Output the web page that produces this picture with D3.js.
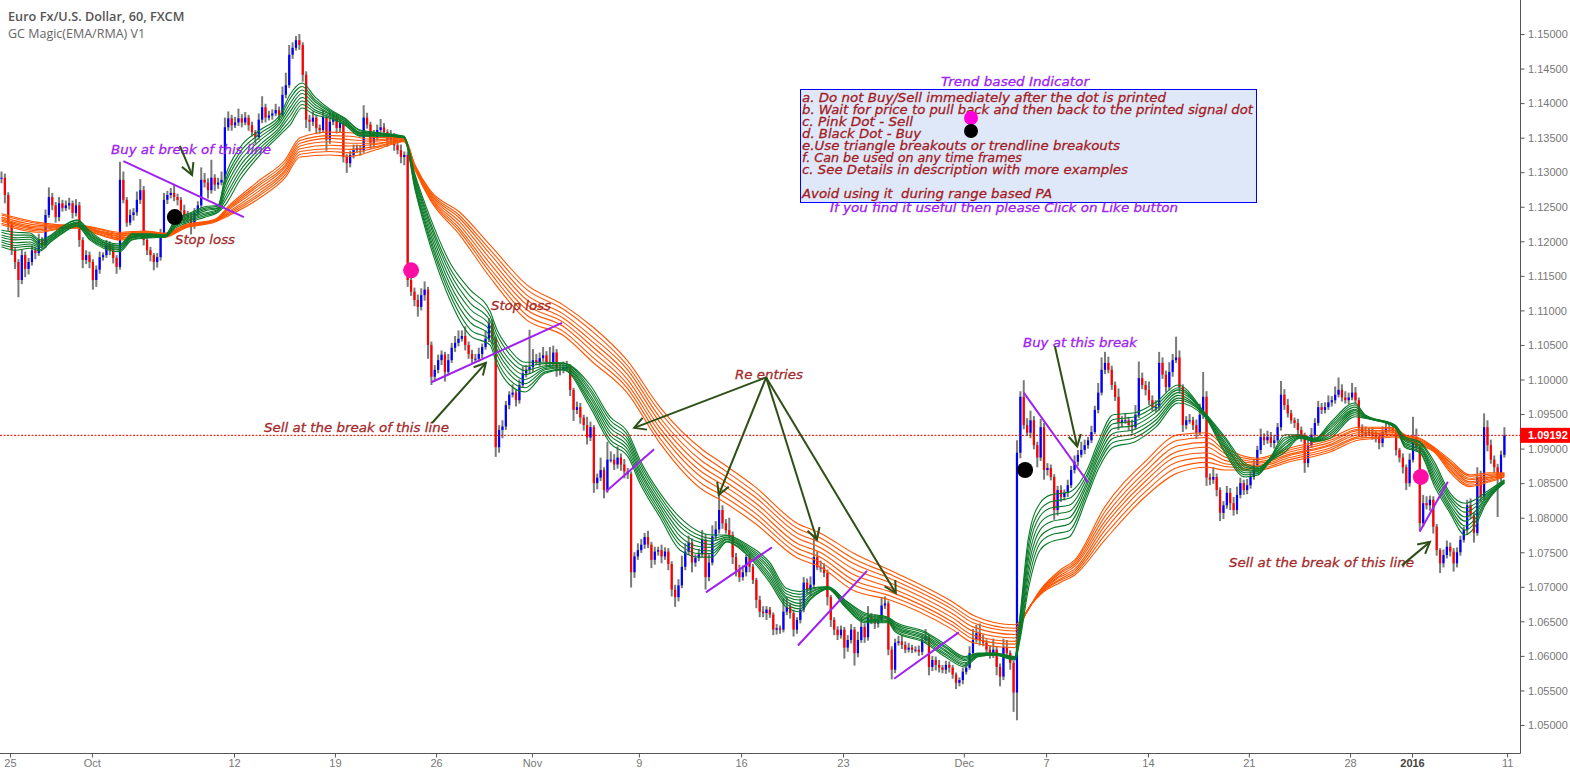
<!DOCTYPE html>
<html><head><meta charset="utf-8">
<style>html,body{margin:0;padding:0;background:#fff;overflow:hidden}svg{display:block}</style>
<script src="https://cdnjs.cloudflare.com/ajax/libs/d3/7.8.5/d3.min.js"></script>
</head><body><svg id="c" width="1570" height="772"></svg>
<script>
// all prices in pips (1.0000 = 10000)
const closes=[
11292,11267,11224,11187,11170,11144,11180,11160,11170,11187,
11183,11202,11195,11238,11264,11252,11235,11255,11248,11252,
11255,11241,11252,11202,11173,11180,11170,11144,11159,11177,
11180,11195,11187,11176,11163,11289,11260,11227,11238,11242,
11260,11274,11202,11187,11180,11170,11177,11210,11260,11267,
11270,11264,11260,11245,11235,11238,11224,11241,11252,11289,
11285,11274,11292,11282,11285,11289,11365,11378,11368,11372,
11378,11372,11379,11368,11358,11351,11376,11394,11379,11382,
11385,11390,11383,11412,11426,11470,11480,11491,11484,11441,
11376,11373,11379,11364,11361,11380,11347,11373,11379,11364,
11371,11322,11313,11325,11332,11335,11332,11379,11369,11343,
11351,11361,11365,11358,11347,11354,11339,11332,11322,11325,
11144,11127,11115,11105,11122,11130,11050,11004,11014,11028,
11036,11011,11028,11046,11053,11059,11063,11050,11037,11030,
11030,11037,11047,11059,11081,11059,10902,10927,10932,10963,
10978,10981,10970,10992,11009,11014,11018,11028,11025,11031,
11035,11025,11023,11039,11016,11014,11018,11018,10985,10956,
10960,10945,10934,10916,10931,10850,10858,10869,10840,10884,
10884,10877,10887,10877,10867,10863,10721,10744,10753,10761,
10772,10761,10739,10751,10753,10744,10751,10733,10696,10685,
10702,10729,10751,10764,10735,10742,10747,10768,10714,10735,
10773,10783,10811,10792,10782,10775,10743,10724,10714,10721,
10743,10729,10710,10681,10664,10662,10667,10660,10638,10640,
10638,10664,10671,10662,10638,10652,10667,10706,10695,10703,
10743,10728,10728,10720,10685,10652,10638,10630,10638,10612,
10623,10638,10604,10623,10642,10627,10656,10652,10647,10652,
10673,10676,10609,10580,10619,10621,10616,10609,10612,10609,
10609,10606,10623,10627,10584,10594,10587,10583,10580,10587,
10583,10573,10561,10565,10577,10583,10604,10623,10633,10623,
10619,10609,10602,10609,10584,10570,10613,10604,10590,10547,
10894,10975,10934,10923,10941,10905,10887,10931,10869,10872,
10859,10811,10840,10830,10836,10847,10869,10881,10891,10898,
10905,10912,10924,10956,10981,11014,11024,11014,10992,10975,
10937,10941,10941,10934,10931,10949,11002,10992,10985,10970,
10960,10960,11024,11007,10989,11011,11028,11032,10989,10934,
10941,10941,10934,10923,10949,10975,10858,10855,10859,10840,
10807,10818,10836,10821,10811,10833,10850,10840,10847,10859,
10876,10898,10917,10912,10917,10908,10912,10931,10978,10963,
10951,10941,10937,10927,10920,10879,10905,10920,10937,10960,
10956,10960,10967,10970,10978,10985,10974,10970,10974,10981,
10970,10930,10923,10923,10924,10920,10917,10908,10924,10931,
10930,10927,10898,10887,10873,10850,10884,10917,10902,10792,
10821,10818,10826,10787,10753,10734,10746,10758,10751,10734,
10750,10768,10782,10818,10804,10778,10859,10830,10931,10905,
10884,10873,10857,10891,10919];
const wickUp=[
9,6,4,5,3,4,8,5,6,7,
5,9,4,8,14,6,5,9,5,7,
8,4,9,5,4,7,5,4,6,8,
4,7,5,3,4,26,12,4,8,6,
12,16,6,4,5,3,6,8,10,6,
7,12,5,4,8,6,3,7,6,18,
10,6,26,5,7,12,14,10,5,8,
14,6,8,4,5,3,9,16,5,7,
6,9,5,12,18,14,8,6,9,4,
5,7,9,4,5,10,3,14,8,5,
6,3,4,6,8,5,4,18,7,4,
10,8,12,6,4,7,3,6,8,5,
5,3,6,8,10,12,4,5,7,8,
6,4,9,7,10,12,8,14,5,6,
7,9,5,12,8,6,3,7,9,6,
5,12,4,8,10,7,54,16,9,8,
12,6,22,10,5,7,8,9,4,3,
8,6,4,12,8,3,6,18,4,26,
12,8,16,6,8,5,4,6,10,8,
6,9,4,7,5,8,6,5,4,7,
9,16,12,10,6,5,8,14,8,12,
16,12,22,7,6,18,5,6,8,10,
4,5,4,3,6,8,5,4,3,6,
4,20,14,6,5,4,16,8,6,12,
32,8,10,6,5,3,4,5,6,4,
7,8,4,12,14,5,16,6,8,5,
12,10,4,5,6,8,9,5,7,4,
5,6,8,12,4,6,5,7,4,6,
5,4,3,4,6,8,10,16,12,14,
8,5,6,16,4,5,12,10,4,3,
18,8,24,10,14,6,5,12,6,7,
5,4,6,7,5,8,6,9,7,12,
8,5,9,6,14,18,16,9,6,5,
12,6,10,5,8,14,24,8,6,12,
7,10,16,8,6,14,9,30,10,4,
6,9,5,8,16,36,8,6,14,5,
4,6,10,7,9,12,8,5,9,7,
8,6,12,5,9,7,8,6,20,8,
9,5,4,6,5,3,8,10,7,9,
6,7,10,6,12,18,8,9,7,14,
8,4,5,9,6,7,5,4,8,6,
6,4,5,3,6,4,9,29,12,3,
12,10,6,5,4,3,8,9,6,5,
7,6,5,8,10,4,14,9,20,10,
8,6,5,6,12];
const wickDn=[
8,12,9,7,10,25,6,12,8,5,
9,4,6,5,4,7,8,6,5,4,
6,8,5,10,12,6,9,14,10,6,
5,4,7,8,10,4,5,6,4,8,
5,6,8,7,9,12,8,5,4,6,
5,6,8,4,10,8,14,6,5,4,
7,12,5,9,6,4,6,5,8,4,
5,7,4,8,6,10,4,5,7,4,
6,4,8,3,5,4,6,4,7,10,
12,14,6,9,5,4,16,6,5,8,
7,8,14,6,5,4,8,4,6,9,
7,5,4,6,10,5,8,6,9,12,
10,6,9,14,5,8,20,12,6,5,
7,14,5,4,6,5,4,8,7,6,
5,4,6,4,5,8,14,8,12,5,
6,4,9,5,4,6,5,7,4,6,
5,8,6,4,12,8,5,6,9,16,
6,9,8,10,5,14,9,5,12,4,
4,8,6,9,10,7,22,8,5,4,
6,5,12,7,6,10,5,9,10,14,
6,4,5,5,14,6,5,4,18,6,
4,5,6,8,5,4,10,9,7,5,
6,8,6,12,8,6,10,5,8,7,
6,4,5,8,10,6,5,4,5,8,
6,4,7,6,12,10,8,7,5,16,
6,5,18,6,4,8,5,6,8,6,
4,5,8,14,5,4,6,5,4,5,
4,6,5,4,12,6,8,7,5,6,
7,6,9,5,6,4,3,5,4,8,
5,8,6,5,12,14,5,6,10,28,
40,8,6,5,8,6,14,5,14,8,
5,14,8,7,5,6,4,5,6,4,
6,5,4,3,5,4,6,5,7,6,
10,6,5,8,9,4,5,6,8,7,
6,7,5,6,8,5,7,4,9,10,
6,5,7,9,4,6,12,8,6,9,
12,9,5,10,8,6,5,7,6,5,
4,5,6,7,5,6,8,4,5,7,
6,5,7,8,10,14,6,4,5,4,
6,5,4,6,5,4,6,5,6,4,
6,9,7,6,5,7,8,9,6,5,
6,5,8,7,9,10,5,4,7,12,
5,6,8,10,8,14,6,5,7,12,
6,5,4,7,6,14,4,8,5,9,
6,8,56,5,4];

const greenBars=[0,4,8.4,11.4,14.3,17.3,22.3,26.1,30.6,35,38.6,43.9,48.3,51.3,55.7,60.1,64,66,70.5,76.4,82.3,85.2,88.8,92.6,97,101.5,105.9,111.8,118.9,122.2,126.6,132.5,138.4,144.3,146.4,150.2,154.7,160.6,165.9,173.9,179.8,185.1,188.6,194.5,200.5,206.4,209.9,214.3,219.6,227,231.8,235.9,238.9,244.2,249.2,255.1,261.9,264,272.8,278.7,284.6,288.5,293.5,299.4,300.9,303.3,306.8,310,315.4,320.7,323.9,328.4,334.9,341,347.6,355.5,361.4,367.4,371.2,374.7,379.2,383.6,388,392.5,399.8,402.8,411.7,414.6,419,423.5,427.9,432.4,435.3,438.3,444];
const greenRows=[
[11216,11213,11209,11206,11202,11199,11195,11192],[11213,11209,11205,11202,11198,11194,11191,11187],[11212,11209,11206,11203,11199,11196,11193,11190],[11202,11200,11197,11195,11193,11191,11188,11186],[11208,11207,11205,11204,11202,11201,11199,11198],[11219,11218,11216,11215,11213,11212,11210,11209],[11231,11230,11228,11227,11226,11225,11223,11222],[11215,11213,11211,11209,11208,11206,11204,11202],[11200,11198,11197,11195,11194,11192,11191,11189],[11196,11194,11193,11191,11190,11188,11187,11185],[11211,11210,11208,11207,11206,11205,11203,11202],[11211,11210,11209,11208,11208,11207,11206,11205],
[11209,11209,11208,11208,11207,11207,11206,11206],[11231,11229,11228,11226,11224,11222,11221,11219],[11241,11239,11237,11235,11234,11232,11230,11228],[11250,11248,11246,11244,11241,11239,11237,11235],[11252,11251,11249,11248,11246,11245,11243,11242],[11292,11286,11281,11275,11269,11263,11258,11252],[11336,11329,11323,11316,11309,11302,11296,11289],[11361,11356,11351,11346,11340,11335,11330,11325],[11383,11379,11375,11371,11366,11362,11358,11354],[11412,11406,11399,11393,11387,11381,11374,11368],[11429,11424,11419,11414,11408,11403,11398,11393],[11409,11405,11402,11398,11394,11390,11387,11383],[11391,11389,11387,11385,11384,11382,11380,11378],[11378,11377,11375,11374,11372,11371,11369,11368],[11361,11360,11358,11357,11356,11355,11353,11352],[11357,11356,11356,11355,11354,11353,11353,11352],[11352,11352,11351,11351,11351,11351,11350,11350],
[11296,11293,11290,11287,11283,11280,11277,11274],[11235,11229,11224,11218,11212,11206,11201,11195],[11169,11161,11154,11146,11138,11130,11123,11115],[11130,11121,11111,11102,11092,11083,11073,11064],[11099,11092,11085,11078,11071,11064,11057,11050],[11072,11065,11057,11050,11043,11036,11028,11021],[11043,11036,11028,11021,11014,11007,10999,10992],[11025,11019,11013,11007,11000,10994,10988,10982],[11025,11023,11020,11018,11016,11014,11011,11009],[11024,11023,11021,11020,11018,11017,11015,11014],[10992,10987,10983,10978,10974,10969,10965,10960],[10946,10941,10935,10930,10924,10919,10913,10908],[10923,10918,10913,10908,10903,10898,10893,10888],[10884,10879,10874,10869,10865,10860,10855,10850],[10836,10831,10826,10821,10816,10811,10806,10801],[10800,10793,10787,10780,10773,10766,10760,10753],[10779,10774,10769,10764,10758,10753,10748,10743],[10775,10770,10766,10761,10757,10752,10748,10743],[10775,10774,10772,10771,10769,10768,10766,10765],[10763,10761,10759,10757,10755,10753,10751,10749],[10735,10731,10727,10723,10718,10714,10710,10706],[10698,10694,10690,10686,10683,10679,10675,10671],[10693,10689,10685,10681,10676,10672,10668,10664],[10698,10696,10693,10691,10688,10686,10683,10681],[10700,10700,10699,10699,10698,10698,10697,10697],[10681,10680,10678,10677,10675,10674,10672,10671],[10662,10660,10658,10656,10654,10652,10650,10648],[10656,10655,10654,10653,10651,10650,10649,10648],[10649,10647,10645,10643,10641,10639,10637,10635],[10635,10633,10630,10628,10626,10624,10621,10619],[10617,10614,10612,10609,10607,10604,10602,10599],[10599,10597,10595,10593,10590,10588,10586,10584],[10604,10603,10603,10602,10601,10601,10600,10599],[10604,10604,10603,10603,10602,10602,10601,10601],[10599,10598,10598,10597,10596,10596,10595,10594],
[10659,10654,10649,10644,10638,10633,10628,10623],[10768,10758,10747,10737,10726,10716,10705,10695],[10821,10811,10802,10792,10782,10772,10763,10753],[10833,10823,10814,10804,10794,10784,10775,10765],[10837,10828,10818,10809,10800,10791,10781,10772],[10869,10863,10858,10852,10847,10841,10836,10830],[10908,10902,10897,10891,10886,10880,10875,10869],[10949,10942,10936,10929,10922,10915,10909,10902],[10952,10946,10940,10934,10928,10922,10916,10910],[10967,10962,10957,10952,10946,10941,10936,10931],[10992,10988,10985,10981,10977,10973,10970,10966],[10952,10951,10950,10950,10948,10948,10947,10946],[10917,10914,10910,10907,10904,10901,10897,10894],[10879,10876,10873,10870,10868,10865,10862,10859],[10873,10871,10870,10868,10867,10865,10864,10862],[10886,10885,10885,10884,10883,10882,10882,10881],[10920,10916,10913,10909,10906,10902,10899,10895],[10920,10919,10919,10918,10917,10916,10916,10915],[10915,10914,10914,10913,10912,10911,10911,10910],[10937,10934,10931,10928,10924,10921,10918,10915],[10966,10963,10960,10957,10955,10952,10949,10946],[10949,10948,10948,10947,10946,10945,10945,10944],[10934,10934,10933,10933,10932,10932,10931,10931],[10917,10915,10913,10911,10908,10906,10904,10902],[10910,10908,10905,10903,10901,10899,10896,10894],[10879,10874,10869,10864,10859,10854,10849,10844],[10836,10832,10828,10824,10819,10815,10811,10807],[10821,10814,10808,10801,10795,10788,10782,10775],[10826,10820,10815,10809,10804,10798,10793,10787],[10836,10833,10831,10828,10826,10823,10821,10818],[10855,10854,10854,10853,10852,10851,10851,10850]];
const orangeBars=[0,11.4,17.3,22.3,29.1,35,42.4,48.3,54.2,63.1,67.5,76.4,83.8,88.2,97,103,110.4,118.9,122.2,126.6,135.4,144.3,155.2,165.9,174.7,184.8,194.5,207.2,212.3,222.6,235,241.8,251.6,262.5,281,287,299.4,301.8,306.8,312.7,317.1,326,337.8,347.6,356.1,361.4,371.2,380.6,392.5,400.7,407.2,411.7,414.6,419,423.5,427.9,433.8,439.7,444];
const orangeRows=[
[11240,11238,11235,11233,11231,11229,11226,11224],[11227,11225,11223,11221,11219,11217,11215,11213],[11224,11223,11222,11221,11221,11220,11219,11218],[11224,11223,11223,11222,11221,11220,11220,11219],[11218,11217,11215,11214,11213,11212,11210,11209],[11213,11211,11210,11208,11207,11205,11204,11202],[11215,11214,11213,11212,11211,11210,11209,11208],[11212,11211,11210,11209,11209,11208,11207,11206],[11224,11223,11223,11222,11221,11220,11220,11219],[11232,11231,11231,11230,11230,11229,11229,11228],[11253,11251,11249,11247,11244,11242,11240,11238],[11289,11285,11282,11278,11274,11270,11267,11263],[11318,11314,11310,11307,11303,11300,11296,11292],[11350,11346,11342,11338,11334,11330,11326,11322],[11358,11353,11349,11344,11339,11334,11330,11325],[11357,11352,11347,11342,11338,11333,11328,11323],[11350,11347,11345,11342,11340,11337,11335,11332],[11350,11349,11348,11347,11347,11346,11345,11344],
[11310,11309,11308,11307,11306,11305,11304,11303],[11274,11272,11270,11268,11266,11264,11262,11260],[11242,11237,11233,11228,11223,11218,11214,11209],[11195,11188,11182,11175,11168,11161,11155,11148],[11137,11130,11122,11115,11108,11101,11093,11086],[11108,11102,11095,11089,11083,11077,11070,11064],[11076,11069,11061,11054,11047,11040,11032,11025],[11028,11021,11015,11008,11001,10994,10988,10981],[10960,10953,10945,10938,10930,10923,10915,10908],[10898,10890,10881,10873,10865,10857,10848,10840],[10881,10873,10865,10857,10850,10842,10834,10826],[10845,10837,10830,10822,10815,10807,10800,10792],[10792,10785,10778,10771,10763,10756,10749,10742],[10778,10771,10764,10757,10750,10743,10736,10729],[10749,10741,10734,10726,10718,10710,10703,10695],[10724,10718,10712,10706,10699,10693,10687,10681],[10678,10672,10667,10661,10655,10649,10644,10638],[10659,10653,10648,10642,10636,10630,10625,10619],[10645,10640,10636,10631,10626,10621,10617,10612],
[10656,10655,10655,10654,10654,10653,10653,10652],[10695,10694,10693,10692,10691,10690,10689,10688],[10724,10721,10719,10716,10714,10711,10709,10706],[10739,10736,10733,10730,10726,10723,10720,10717],[10816,10809,10802,10795,10789,10782,10775,10768],[10881,10874,10866,10859,10852,10845,10837,10830],[10920,10912,10904,10896,10889,10881,10873,10865],[10923,10916,10909,10902,10894,10887,10880,10873],[10902,10897,10893,10888,10883,10878,10874,10869],[10886,10884,10881,10879,10876,10874,10871,10869],[10901,10898,10895,10892,10890,10887,10884,10881],[10915,10912,10909,10906,10904,10901,10898,10895],[10931,10928,10926,10923,10920,10917,10915,10912],[10931,10929,10926,10924,10922,10920,10917,10915],[10930,10928,10926,10924,10923,10921,10919,10917],[10920,10919,10918,10917,10916,10915,10914,10913],[10915,10914,10912,10911,10909,10908,10906,10905],[10901,10900,10899,10898,10897,10896,10895,10894],[10884,10881,10879,10876,10874,10871,10869,10866],[10862,10860,10857,10855,10852,10850,10847,10845],[10865,10863,10861,10859,10858,10856,10854,10852],[10865,10864,10863,10863,10861,10861,10860,10859]];

const tickBars=[2.5,26.7,68.7,98.5,128.4,156.7,188.3,218.5,248.6,284.3,308.6,338.7,368.5,398.4,416.7,444.8];
const tickLabels=["25","Oct","12","19","26","Nov","9","16","23","Dec","7","14","21","28","2016","11"];
const priceTicks=[10500,10550,10600,10650,10700,10750,10800,10850,10900,10950,11000,11050,11100,11150,11200,11250,11300,11350,11400,11450,11500];
const lastPrice=10919.2;
// trendlines: [bar, pips, bar, pips]
const trendlines=[[36,11316,71.6,11235],[127,10996,165.6,11082],[178.6,10838,192.8,10899],[208.1,10692,227.6,10757],[235.3,10615,255.7,10723],[263.7,10567,282.8,10634],[302,10981,321,10851],[419,10780,427.3,10852]];
// arrows: [bar from, pips from, bar to, pips to]
const arrows=[[52.7,11338,56.3,11296],[127.2,10937,143.1,11024],[225.9,11003,186.9,10930],[225.9,11003,211.9,10833],[225.9,11003,240.9,10768],[225.9,11003,264.2,10691],[311.2,11048,317.8,10903],[413.7,10731,422,10765]];
// dots: [bar, pips, colour]
const dots=[[51.2,11235,"#000"],[121,11158,"#ff0ea6"],[302.4,10869,"#000"],[419.3,10859,"#ff0ea6"]];

const W=1570,H=772;
const x=d3.scaleLinear().domain([0,444]).range([1.5,1504.4]);
const y=d3.scaleLinear().domain([10500,11500]).range([725,34]);
const svg=d3.select("#c");
const fUI="'Open Sans',sans-serif", fAxis="'Liberation Sans',Arial,sans-serif", fNote="'DejaVu Sans',sans-serif";

// candles
const bars=closes.map((c,i)=>{const o=i?closes[i-1]:c;return{i,o,c,h:Math.max(o,c)+wickUp[i],l:Math.min(o,c)-wickDn[i]}});
svg.append("g").selectAll("line").data(bars).join("line")
 .attr("x1",d=>x(d.i)).attr("x2",d=>x(d.i)).attr("y1",d=>y(d.h)).attr("y2",d=>y(d.l))
 .attr("stroke","#7a7a7a").attr("stroke-width",2);
svg.append("g").selectAll("rect").data(bars).join("rect")
 .attr("x",d=>x(d.i)-1.1).attr("width",2.2)
 .attr("y",d=>y(Math.max(d.o,d.c))).attr("height",d=>Math.max(1,Math.abs(y(d.o)-y(d.c))))
 .attr("fill",d=>d.c>=d.o?"#0000ff":"#ff0000");

// ribbons
function ribbon(barsArr,rows,color){
 const g=svg.append("g").attr("fill","none").attr("stroke",color).attr("stroke-width",1.1);
 d3.range(8).forEach(k=>{
  g.append("path").attr("d",d3.line().x((d,j)=>x(barsArr[j])).y(d=>y(d[k])).curve(d3.curveMonotoneX)(rows));
 });
}
ribbon(orangeBars,orangeRows,"#ff5500");
ribbon(greenBars,greenRows,"#0a7a28");

// price line
svg.append("line").attr("x1",0).attr("x2",1520).attr("y1",y(lastPrice)).attr("y2",y(lastPrice))
 .attr("stroke","#e00000").attr("stroke-width",1).attr("stroke-dasharray","2 1.5");

// note box
svg.append("rect").attr("x",800.5).attr("y",89.5).attr("width",456).attr("height",113)
 .attr("fill","#dfe8f9").attr("stroke","#0000ff").attr("stroke-width",1);
const boxLines=["a. Do not Buy/Sell immediately after the dot is printed","b. Wait for price to pull back and then back to the printed signal dot","c. Pink Dot - Sell","d. Black Dot - Buy","e.Use triangle breakouts or trendline breakouts","f. Can be used on any time frames","c. See Details in description with more examples","","Avoid using it  during range based PA"];
function note(t,px,py,col,size,w){
 const e=svg.append("text").attr("x",px).attr("y",py).attr("fill",col).attr("font-family",fNote)
  .attr("font-style","italic").attr("font-size",size).attr("stroke",col).attr("stroke-width",.3).style("white-space","pre").text(t);
 if(w)e.attr("textLength",w).attr("lengthAdjust","spacingAndGlyphs");
}
const boxW=[364,451,111,119,318,220,326,0,250];
boxLines.forEach((t,i)=>{if(t)note(t,802,101.5+i*12,"#a31b22",13,boxW[i]);});
note("Trend based Indicator",941,86,"#a020f0",13,148);
note("If you find it useful then please Click on Like button",830,212,"#a020f0",13,348);
svg.append("circle").attr("cx",971).attr("cy",118).attr("r",7).attr("fill","#ff00dc");
svg.append("circle").attr("cx",971).attr("cy",131).attr("r",7).attr("fill","#000");

// notes on chart
note("Buy at break of this line",111,154,"#a020f0",13,160);
note("Stop loss",175,244,"#a52a2a",13,60);
note("Stop loss",491,310,"#a52a2a",13,60);
note("Sell at the break of this line",264,432,"#a52a2a",13,185);
note("Re entries",735,379,"#a52a2a",13,68);
note("Buy at this break",1023,347,"#a020f0",13,114);
note("Sell at the break of this line",1229,567,"#a52a2a",13,185);

// trendlines
svg.append("g").selectAll("line").data(trendlines).join("line")
 .attr("x1",d=>x(d[0])).attr("y1",d=>y(d[1])).attr("x2",d=>x(d[2])).attr("y2",d=>y(d[3]))
 .attr("stroke","#a020f0").attr("stroke-width",2);

// arrows
const ag=svg.append("g").attr("fill","none").attr("stroke","#2d5016").attr("stroke-width",2);
arrows.forEach(a=>{
 const x1=x(a[0]),y1=y(a[1]),x2=x(a[2]),y2=y(a[3]),ang=Math.atan2(y2-y1,x2-x1),L=13,S=.5;
 ag.append("line").attr("x1",x1).attr("y1",y1).attr("x2",x2).attr("y2",y2);
 ag.append("polyline").attr("points",[[x2-L*Math.cos(ang-S),y2-L*Math.sin(ang-S)],[x2,y2],[x2-L*Math.cos(ang+S),y2-L*Math.sin(ang+S)]].join(" "));
});

// dots
svg.append("g").selectAll("circle").data(dots).join("circle")
 .attr("cx",d=>x(d[0])).attr("cy",d=>y(d[1])).attr("r",8).attr("fill",d=>d[2]);

// axes
const gy=svg.append("g").attr("transform","translate(1520.5,0)")
 .call(d3.axisRight(y).tickValues(priceTicks).tickSize(4).tickFormat(d=>(d/10000).toFixed(5)));
const gx=svg.append("g").attr("transform","translate(0,753.5)")
 .call(d3.axisBottom(x).tickValues(tickBars).tickSize(4).tickFormat((d,i)=>tickLabels[i]));
[gx,gy].forEach(g=>{
 g.select(".domain").remove();
 g.selectAll("line").attr("stroke","#555");
 g.selectAll("text").attr("fill","#777").attr("font-family",fAxis).attr("font-size",11);
});
gy.selectAll("text").attr("x",7.5).attr("dy","0.34em");
gx.selectAll("text").attr("y",5).attr("dy","0.8em").filter((d,i)=>tickLabels[i]==="2016").attr("font-weight","bold").attr("fill","#444");
svg.append("line").attr("x1",0).attr("x2",1520.5).attr("y1",753.5).attr("y2",753.5).attr("stroke","#555");
svg.append("line").attr("x1",1520.5).attr("x2",1520.5).attr("y1",0).attr("y2",753.5).attr("stroke","#555");

// last price tag
svg.append("rect").attr("x",1520).attr("y",y(lastPrice)-7.5).attr("width",50).attr("height",15).attr("fill","#ff0000");
svg.append("text").attr("x",1528).attr("y",y(lastPrice)+4).attr("fill","#fff").attr("font-family",fAxis).attr("font-weight","bold").attr("font-size",11).text((lastPrice/10000).toFixed(5));

// title
svg.append("text").attr("x",8).attr("y",21).attr("fill","#555").attr("font-family",fUI).attr("font-weight",600).attr("font-size",12.7).text("Euro Fx/U.S. Dollar, 60, FXCM");
svg.append("text").attr("x",8).attr("y",38).attr("fill","#666").attr("font-family",fUI).attr("font-size",12.5).text("GC Magic(EMA/RMA) V1");
</script></body></html>
